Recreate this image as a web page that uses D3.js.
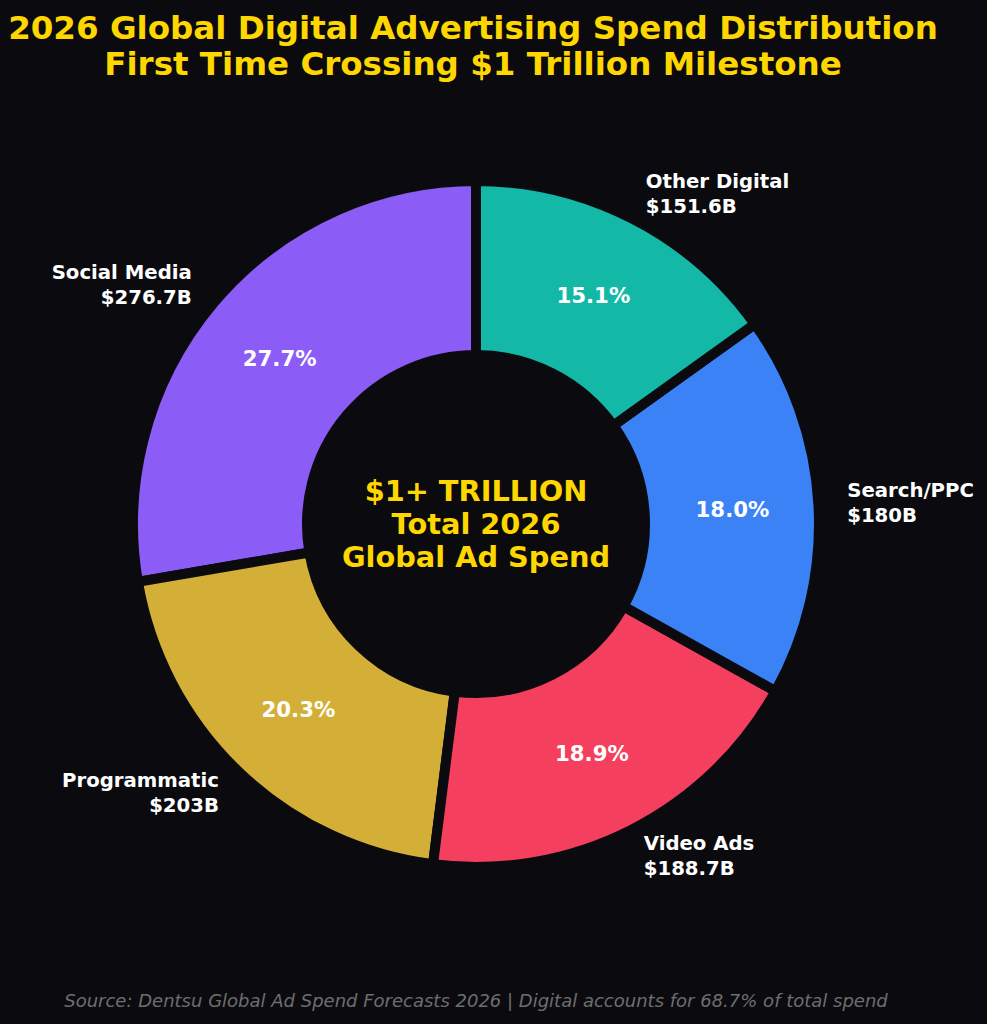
<!DOCTYPE html>
<html><head><meta charset="utf-8">
<script src="https://cdn.jsdelivr.net/npm/d3@7"></script>
<style>html,body{margin:0;padding:0;background:#0b0b0f;}svg{display:block;}</style>
</head><body>
<svg id="chart" width="987" height="1024"></svg>
<script>
const categories = ["Social Media", "Programmatic", "Video Ads", "Search/PPC", "Other Digital"];
const shares = [27.7, 20.3, 18.9, 18.0, 15.1];
const spendLabels = ["$276.7B", "$203B", "$188.7B", "$180B", "$151.6B"];
const colors = ["#8B5CF6", "#D4AF37", "#F43F5E", "#3B82F6", "#14B8A6"];
const titleLines = ["2026 Global Digital Advertising Spend Distribution", "First Time Crossing $1 Trillion Milestone"];
const centerLines = ["$1+ TRILLION", "Total 2026", "Global Ad Spend"];
const sourceText = "Source: Dentsu Global Ad Spend Forecasts 2026 | Digital accounts for 68.7% of total spend";

const W = 987, H = 1024, bg = "#0b0b0f";
const cx = 476, cy = 524, R = 338;
const font = "'DejaVu Sans', sans-serif";
const svg = d3.select("#chart");
svg.append("rect").attr("width", W).attr("height", H).attr("fill", bg);

// title
svg.append("g").selectAll("text").data(titleLines).join("text")
  .attr("x", 473).attr("y", (d, i) => 27 + i * 36).attr("dy", "0.37em")
  .attr("text-anchor", "middle").attr("font-family", font).attr("font-weight", "bold")
  .attr("font-size", 32.5).attr("fill", "#FFD700").text(d => d);

const data = categories.map((c, i) => ({cat: c, share: shares[i], spend: spendLabels[i], color: colors[i]}));
const pie = d3.pie().value(d => d.share).sort(null).startAngle(0).endAngle(-2 * Math.PI);
const arcs = pie(data);
const arc = d3.arc().innerRadius(R * 0.5).outerRadius(R + 5);

const g = svg.append("g").attr("transform", `translate(${cx},${cy})`);
g.selectAll("path").data(arcs).join("path")
  .attr("d", arc).attr("fill", d => d.data.color)
  .attr("stroke", bg).attr("stroke-width", 10).attr("stroke-linejoin", "miter");

const mid = d => (d.startAngle + d.endAngle) / 2;
// percentage labels
g.selectAll("text.pct").data(arcs).join("text").attr("class", "pct")
  .attr("x", d => Math.sin(mid(d)) * R * 0.76)
  .attr("y", d => -Math.cos(mid(d)) * R * 0.76)
  .attr("dy", "0.35em").attr("text-anchor", "middle")
  .attr("font-family", font).attr("font-weight", "bold").attr("font-size", 21.3)
  .attr("fill", "#ffffff").text(d => d.data.share.toFixed(1) + "%");

// outer labels
const lab = g.selectAll("text.lab").data(arcs).join("text").attr("class", "lab")
  .attr("text-anchor", d => Math.sin(mid(d)) > 0 ? "start" : "end")
  .attr("font-family", font).attr("font-weight", "bold").attr("font-size", 19.7)
  .attr("fill", "#ffffff");
lab.each(function(d) {
  const x = Math.sin(mid(d)) * R * 1.1, y = -Math.cos(mid(d)) * R * 1.1;
  const t = d3.select(this);
  t.append("tspan").attr("x", x).attr("y", y - 12.5).attr("dy", "0.35em").text(d.data.cat);
  t.append("tspan").attr("x", x).attr("y", y + 12.5).attr("dy", "0.35em").text(d.data.spend);
});

// center text
g.selectAll("text.ctr").data(centerLines).join("text").attr("class", "ctr")
  .attr("x", 0).attr("y", (d, i) => (i - 1) * 33).attr("dy", "0.35em")
  .attr("text-anchor", "middle").attr("font-family", font).attr("font-weight", "bold")
  .attr("font-size", 28.8).attr("fill", "#FFD700").text(d => d);

// source
svg.append("text").attr("x", 476).attr("y", 1001).attr("dy", "0.35em")
  .attr("text-anchor", "middle").attr("font-family", font).attr("font-style", "italic")
  .attr("font-size", 18).attr("fill", "#6e6e6e").text(sourceText);
</script>
</body></html>
